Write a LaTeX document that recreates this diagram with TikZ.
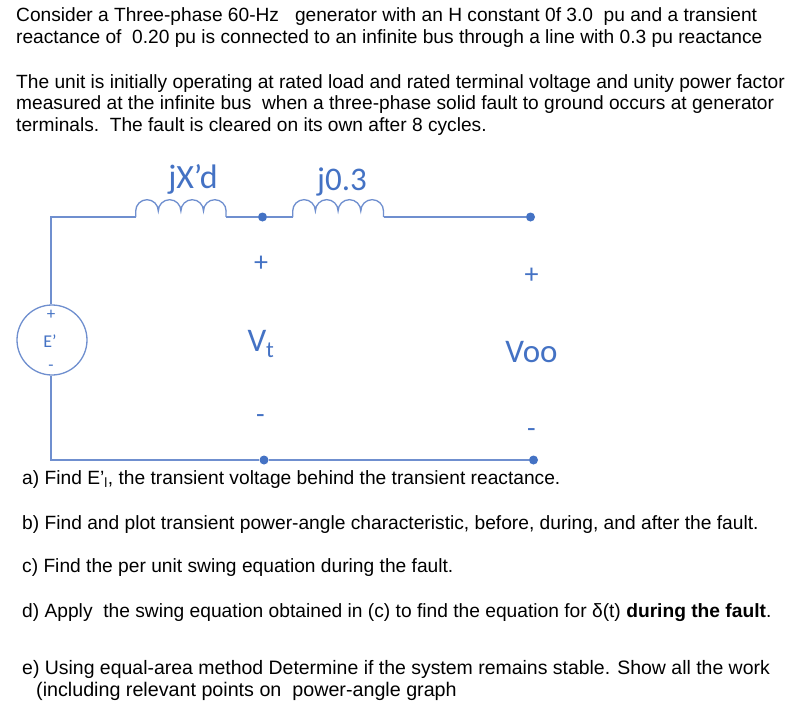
\documentclass[tikz,border=0pt]{standalone}
\usepackage{fontspec}
\setmainfont{Liberation Sans}
\newfontfamily\dia{Carlito}
\definecolor{wire}{HTML}{6F8FCF}
\definecolor{dotc}{HTML}{4472C4}
\definecolor{lab}{HTML}{4472C4}
\tikzset{
 txt/.style={anchor=base west,inner sep=0pt,font=\fontsize{#1}{22}\selectfont,text=black},
 txt/.default=19.15,
 lab/.style={inner sep=0pt,text=lab,font=\dia\fontsize{#1}{#1}\selectfont},
 wireline/.style={draw=wire,line width=1.9pt},
 coilline/.style={draw=wire,line width=1.3pt},
 term/.style={circle,fill=dotc,draw=none,minimum size=9pt,inner sep=0pt},
 source/.style={circle,draw=wire,line width=1.3pt,minimum size=70pt,inner sep=0pt,fill=white}
}
\begin{document}
\begin{tikzpicture}[x=1pt,y=-1pt]
\useasboundingbox (0,0) rectangle (790,720);
\fill[white] (0,0) rectangle (790,720);
% text
\node[txt] (t1) at (16,21) {Consider a Three-phase 60-Hz\ \ \ generator with an H constant 0f 3.0\ \ pu and a transient};
\node[txt] (t2) at (16,43) {reactance of\ \ 0.20 pu is connected to an infinite bus through a line with 0.3 pu reactance};
\node[txt] (t3) at (16,88) {The unit is initially operating at rated load and rated terminal voltage and unity power factor};
\node[txt] (t4) at (16,109) {measured at the infinite bus\ \ when a three-phase solid fault to ground occurs at generator};
\node[txt] (t5) at (16,131) {terminals.\ \ The fault is cleared on its own after 8 cycles.};
\node[txt=19.2] (qa) at (22,484) {a) Find E’\textsubscript{l}, the transient voltage behind the transient reactance.};
\node[txt=19.2] (qb) at (22,529) {b) Find and plot transient power-angle characteristic, before, during, and after the fault.};
\node[txt=19.2] (qc) at (22,572) {c) Find the per unit swing equation during the fault.};
\node[txt=19.2] (qd) at (22,617) {d) Apply\ \ the swing equation obtained in (c) to find the equation for δ(t) \textbf{during the fault}.};
\node[txt=19.45] (qe) at (22,674) {e) Using equal-area method Determine if the system remains stable. Show all the work};
\node[txt=19.7] (qf) at (36,696) {(including relevant points on\ \ power-angle graph};
% coordinates and terminals
\node[source] (src) at (52,340) {};
\coordinate (tl) at (51,217);
\coordinate (bl) at (51,460);
\coordinate (c1a) at (135.7,217);
\coordinate (c1b) at (226,217);
\coordinate (c2a) at (292.7,217);
\coordinate (c2b) at (383.5,217);
\node[term] (vtp) at (262.5,217) {};
\node[term] (vop) at (530.5,217) {};
\node[term] (vtn) at (264,460) {};
\node[term] (von) at (533.5,460) {};
% wires
\draw[wireline] (src.north -| tl) -- (tl) -- (c1a);
\draw[wireline] (c1b) -- (vtp) -- (c2a);
\draw[wireline] (c2b) -- (vop);
\draw[wireline] (src.south -| bl) -- (bl) -- (vtn) -- (von);
% coils
\draw[coilline] (c1a) -- ++(0,-6) arc[start angle=180,end angle=360,radius=11.3] arc[start angle=180,end angle=360,radius=11.3] arc[start angle=180,end angle=360,radius=11.3] arc[start angle=180,end angle=360,radius=11.3] -- (c1b);
\draw[coilline] (c2a) -- ++(0,-6) arc[start angle=180,end angle=360,radius=11.35] arc[start angle=180,end angle=360,radius=11.35] arc[start angle=180,end angle=360,radius=11.35] arc[start angle=180,end angle=360,radius=11.35] -- (c2b);
% labels
\node[lab=34] (l1) at (193,179) {jX’d};
\node[lab=33] (l2) at (342,182) {j0.3};
\node[lab=28] (pvt) at (261,264) {+};
\node[lab=28] (mvt) at (260.5,419) {-};
\node[lab=28] (pvo) at (531.5,276) {+};
\node[lab=28] (mvo) at (531.5,433) {-};
\node[lab=33] (vt) at (261,344) {V\textsubscript{t}};
\node[lab=33] (voo) at (531.5,352) {Voo};
\node[lab=18] (es) at (50,341) {E’};
\node[lab=17] (ep) at (51,315) {+};
\node[lab=17] (em) at (51,368) {-};
\end{tikzpicture}
\end{document}
